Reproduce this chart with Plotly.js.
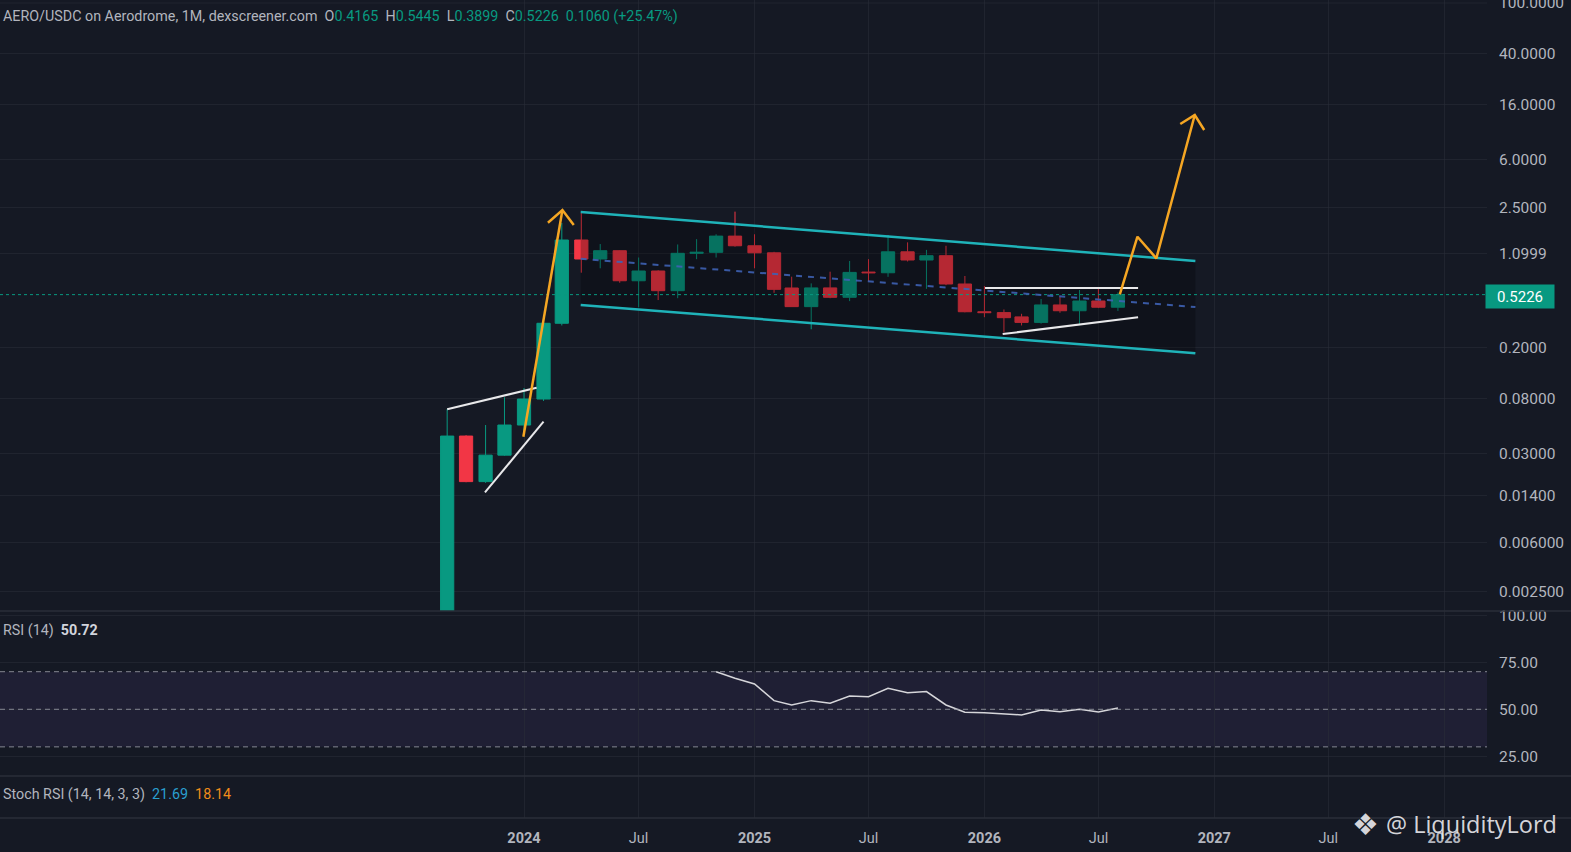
<!DOCTYPE html>
<html><head><meta charset="utf-8">
<script src="https://cdn.plot.ly/plotly-3.0.1.min.js"></script>
<style>html,body{margin:0;padding:0;background:#151924;overflow:hidden}#chart{width:1571px;height:852px}</style>
</head><body><div id="chart"></div>
<script>
// ---- candles (monthly) ----
const months = ['2023-09-01','2023-10-01','2023-11-01','2023-12-01','2024-01-01','2024-02-01','2024-03-01','2024-04-01','2024-05-01','2024-06-01','2024-07-01','2024-08-01','2024-09-01','2024-10-01','2024-11-01','2024-12-01','2025-01-01','2025-02-01','2025-03-01','2025-04-01','2025-05-01','2025-06-01','2025-07-01','2025-08-01','2025-09-01','2025-10-01','2025-11-01','2025-12-01','2026-01-01','2026-02-01','2026-03-01','2026-04-01','2026-05-01','2026-06-01','2026-07-01','2026-08-01'];
const opens  = [0.0015,0.0409,0.0180,0.0290,0.0499,0.0797,0.312,1.398,0.993,1.153,0.671,0.80,0.561,1.10,1.12,1.50,1.26,1.11,0.589,0.421,0.59,0.498,0.785,0.775,1.13,0.975,1.054,0.633,0.384,0.378,0.35,0.317,0.434,0.391,0.466,0.4165];
const highs  = [0.0665,0.0415,0.0499,0.0822,0.0972,0.351,1.90,2.29,1.30,1.16,1.02,0.81,1.29,1.42,1.55,2.33,1.55,1.13,0.722,0.64,0.79,0.958,0.99,1.53,1.34,1.17,1.26,0.731,0.61,0.40,0.37,0.483,0.504,0.568,0.596,0.5445];
const lows   = [0.0012,0.0178,0.0176,0.0287,0.0440,0.077,0.30,0.776,0.84,0.647,0.416,0.474,0.49,0.99,1.02,1.24,0.84,0.54,0.42,0.28,0.49,0.465,0.668,0.72,0.95,0.58,0.62,0.38,0.348,0.265,0.30,0.31,0.377,0.302,0.41,0.3899];
const closes = [0.0409,0.0180,0.0290,0.0499,0.0797,0.312,1.398,0.993,1.153,0.671,0.80,0.561,1.10,1.12,1.50,1.26,1.11,0.575,0.421,0.59,0.498,0.78,0.775,1.13,0.975,1.054,0.633,0.384,0.378,0.345,0.317,0.434,0.391,0.466,0.4165,0.5226];

// ---- RSI (14) ----
const rsiMonths = ['2024-11-01','2024-12-01','2025-01-01','2025-02-01','2025-03-01','2025-04-01','2025-05-01','2025-06-01','2025-07-01','2025-08-01','2025-09-01','2025-10-01','2025-11-01','2025-12-01','2026-01-01','2026-02-01','2026-03-01','2026-04-01','2026-05-01','2026-06-01','2026-07-01','2026-08-01'];
const rsiValues = [70.0,66.5,63.5,54.6,52.3,54.6,53.2,57.1,56.7,61.2,58.8,59.4,52.3,48.4,48.2,47.5,47.0,49.6,48.7,50.0,48.6,50.72];
const rsiLevels = [70,50,30];

// ---- axes ticks ----
const priceTicks = [40,16,6,2.5,1.0999,0.2,0.08,0.03,0.014,0.006,0.0025];
const priceTickLabels = ['40.0000','16.0000','6.0000','2.5000','1.0999','0.2000','0.08000','0.03000','0.01400','0.006000','0.002500'];
const priceTopTick = 100, priceTopLabel = '100.0000';
const rsiTicks = [25,50,75,100];
const rsiTickLabels = ['25.00','50.00','75.00','100.00'];
const timeTicks = ['2024-01-01','2024-07-01','2025-01-01','2025-07-01','2026-01-01','2026-07-01','2027-01-01','2027-07-01','2028-01-01'];
const timeTickLabels = ['<b>2024</b>','Jul','<b>2025</b>','Jul','<b>2026</b>','Jul','<b>2027</b>','Jul','<b>2028</b>'];
const timeRange = ['2021-09-21','2028-03-09'];

// ---- drawings (anchor points: date, price) ----
const channelDates = ['2024-03-31','2026-12-02'];
const channelUpper = [2.315,0.958];
const channelMid   = [0.996,0.418];
const channelLower = [0.434,0.1816];
const wedgeUpperDates = ['2023-09-01','2024-01-21'];
const wedgeUpper = [0.0662,0.0977];
const wedgeLowerDates = ['2023-10-31','2024-02-01'];
const wedgeLower = [0.01483,0.0530];
const triUpperDates = ['2026-01-02','2026-09-02'];
const triUpper = [0.589,0.589];
const triLowerDates = ['2026-01-30','2026-09-02'];
const triLower = [0.257,0.3475];
const arrow1Dates = ['2023-12-31','2024-03-02',null,'2024-02-08','2024-03-02','2024-03-20'];
const arrow1 = [0.0404,2.40,null,1.91,2.40,1.83];
const arrow2Dates = ['2026-08-04','2026-09-01','2026-10-01','2026-12-01',null,'2026-11-08','2026-12-01','2026-12-16'];
const arrow2 = [0.526,1.484,1.005,13.29,null,11.3,13.29,10.15];

const GREEN = '#089981', RED = '#f23645', CYAN = '#1fb3b9', ORANGE = '#f5a623', WHITE = '#e8e8ea';
const BG = '#151924', GRID = 'rgba(42,46,57,0.55)', TXT = '#b2b5be';
const last = closes.length - 1;

function line(x, y, color, width, dash, yaxis) {
  return {type:'scatter', mode:'lines', x:x, y:y, xaxis:'x', yaxis:yaxis||'y',
    line:{color:color, width:width, dash:dash||'solid'}, hoverinfo:'skip', connectgaps:false};
}

const traces = [
  // channel background
  {type:'scatter', mode:'lines', x:channelDates, y:channelLower, line:{width:0, color:'rgba(0,0,0,0)'}, hoverinfo:'skip'},
  {type:'scatter', mode:'lines', x:channelDates, y:channelUpper, fill:'tonexty', fillcolor:'rgba(0,0,0,0.25)', line:{width:0, color:'rgba(0,0,0,0)'}, hoverinfo:'skip'},
  // last price dotted line
  line(timeRange, [closes[last], closes[last]], GREEN, 1, 'dot'),
  // candles
  {type:'candlestick', x:months, open:opens, high:highs, low:lows, close:closes,
    increasing:{line:{color:GREEN, width:1}, fillcolor:GREEN},
    decreasing:{line:{color:RED, width:1}, fillcolor:RED},
    whiskerwidth:0, hoverinfo:'skip'},
  // channel lines
  line(channelDates, channelMid, 'rgba(62,98,180,0.9)', 2, '6px,6px'),
  line(channelDates, channelUpper, CYAN, 2.5),
  line(channelDates, channelLower, CYAN, 2.5),
  // wedge / triangle
  line(wedgeUpperDates, wedgeUpper, WHITE, 2),
  line(wedgeLowerDates, wedgeLower, WHITE, 2),
  line(triUpperDates, triUpper, WHITE, 2),
  line(triLowerDates, triLower, WHITE, 2),
  // arrows
  line(arrow1Dates, arrow1, ORANGE, 2.5),
  line(arrow2Dates, arrow2, ORANGE, 2.5),
  // RSI
  line(rsiMonths, rsiValues, '#d6d6da', 1.5, 'solid', 'y2'),
  // empty stoch pane anchor
  {type:'scatter', mode:'lines', x:timeRange, y:[50,50], xaxis:'x', yaxis:'y3', line:{width:0, color:'rgba(0,0,0,0)'}, hoverinfo:'skip'}
];

const shapes = [
  {type:'rect', xref:'x domain', yref:'y2', x0:0, x1:1, y0:rsiLevels[2], y1:rsiLevels[0], fillcolor:'rgba(126,87,194,0.10)', line:{width:0}, layer:'below'},
  {type:'line', xref:'x domain', yref:'paper', x0:0, x1:1, y0:1-3/852, y1:1-3/852, line:{color:GRID, width:1}, layer:'below'}
];
rsiLevels.forEach(v => shapes.push({type:'line', xref:'x domain', yref:'y2', x0:0, x1:1, y0:v, y1:v, line:{color:'rgba(150,153,163,0.85)', width:1, dash:'5px,4px'}}));
[611, 776, 818].forEach(py => shapes.push({type:'line', xref:'paper', yref:'paper', x0:0, x1:1, y0:1-py/852, y1:1-py/852, line:{color:'#2a2e39', width:1.5}}));

const FONT = 'Roboto';
const hdrVal = v => '<span style="color:'+GREEN+'">'+v+'</span>';
const annotations = [
  {xref:'paper', yref:'paper', x:1/1571, y:1-16/852, xanchor:'left', yanchor:'middle', showarrow:false,
    font:{family:FONT, size:14.3, color:TXT},
    text:'AERO/USDC on Aerodrome, 1M, dexscreener.com&nbsp;&nbsp;O'+hdrVal(opens[last].toFixed(4))+'&nbsp;&nbsp;H'+hdrVal(highs[last].toFixed(4))+'&nbsp;&nbsp;L'+hdrVal(lows[last].toFixed(4))+'&nbsp;&nbsp;C'+hdrVal(closes[last].toFixed(4))+'&nbsp;&nbsp;'+hdrVal('0.1060 (+25.47%)')},
  {xref:'paper', yref:'y', x:1497/1571, y:Math.log10(priceTopTick), xanchor:'left', yanchor:'middle', showarrow:false,
    font:{family:FONT, size:15.5, color:TXT}, text:priceTopLabel},
  {xref:'paper', yref:'y', x:1485/1571, y:Math.log10(closes[last]), xanchor:'left', yanchor:'middle', showarrow:false, yshift:-2,
    width:64, height:19, bgcolor:GREEN, borderpad:2, align:'center',
    font:{family:FONT, size:15, color:'#ffffff'}, text:closes[last].toFixed(4)},
  {xref:'paper', yref:'paper', x:1/1571, y:1-630/852, xanchor:'left', yanchor:'middle', showarrow:false,
    font:{family:FONT, size:14.3, color:TXT},
    text:'RSI (14)&nbsp;&nbsp;<b><span style="color:#d1d4dc">'+rsiValues[rsiValues.length-1].toFixed(2)+'</span></b>'},
  {xref:'paper', yref:'paper', x:1/1571, y:1-794/852, xanchor:'left', yanchor:'middle', showarrow:false,
    font:{family:FONT, size:14.3, color:TXT},
    text:'Stoch RSI (14, 14, 3, 3)&nbsp;&nbsp;<span style="color:#2a9fd0">21.69</span>&nbsp;&nbsp;<span style="color:#f08c1a">18.14</span>'},
  {xref:'paper', yref:'paper', x:1381/1571, y:1-824/852, xanchor:'right', yanchor:'middle', showarrow:false,
    font:{family:'DejaVu Sans', size:30, color:'rgba(232,232,236,0.92)'}, text:'❖'},
  {xref:'paper', yref:'paper', x:1559/1571, y:1-824/852, xanchor:'right', yanchor:'middle', showarrow:false,
    font:{family:'Open Sans', size:23.5, color:'rgba(232,232,236,0.92)'}, text:'@ LiquidityLord'}
];

const layout = {
  width:1571, height:852, margin:{l:0, r:0, t:0, b:0},
  paper_bgcolor:BG, plot_bgcolor:BG, showlegend:false, hovermode:false,
  boxgap:0.25, boxgroupgap:0,
  xaxis:{type:'date', range:timeRange, domain:[0, 1487/1571], anchor:'y3',
    tickmode:'array', tickvals:timeTicks, ticktext:timeTickLabels, ticks:'', ticklabelstandoff:9,
    showgrid:true, gridcolor:GRID, zeroline:false, showline:false,
    tickfont:{family:FONT, size:14.5, color:TXT}, rangeslider:{visible:false}, fixedrange:true},
  yaxis:{type:'log', domain:[1-611/852, 1], range:[Math.log10(0.00175), Math.log10(105.5)], side:'right', anchor:'x',
    tickmode:'array', tickvals:priceTicks, ticktext:priceTickLabels, ticks:'', ticklabelstandoff:11,
    showgrid:true, gridcolor:GRID, zeroline:false, showline:false,
    tickfont:{family:FONT, size:15.5, color:TXT}, fixedrange:true},
  yaxis2:{domain:[1-776/852, 1-611/852], range:[14.5, 102.3], side:'right', anchor:'x',
    tickmode:'array', tickvals:rsiTicks, ticktext:rsiTickLabels, ticks:'', ticklabelstandoff:11,
    showgrid:true, gridcolor:GRID, zeroline:false, showline:false,
    tickfont:{family:FONT, size:15.5, color:TXT}, fixedrange:true},
  yaxis3:{domain:[1-818/852, 1-776/852], range:[0,100], side:'right', anchor:'x',
    showticklabels:false, showgrid:false, zeroline:false, showline:false, fixedrange:true},
  shapes:shapes, annotations:annotations
};

Plotly.newPlot('chart', traces, layout, {displayModeBar:false, staticPlot:true});
</script></body></html>
